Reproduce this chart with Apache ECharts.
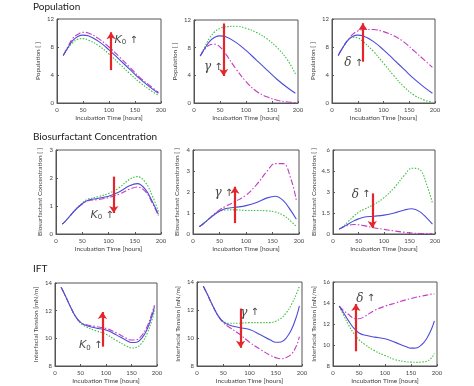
<!DOCTYPE html>
<html><head><meta charset="utf-8">
<script src="https://cdn.jsdelivr.net/npm/echarts@6/dist/echarts.min.js"></script>
<style>html,body{margin:0;padding:0;background:#fff}#c{width:474px;height:386px}</style>
</head><body><div id="c"></div>
<script>
// ---- data ----
const tPop = [12,20,30,40,50,60,80,100,120,140,160,180,195];
const popBase      = [6.8,7.8,8.9,9.5,9.7,9.6,8.8,7.6,6.2,4.8,3.4,2.2,1.4];
const popK0Low     = [6.8,7.7,8.6,9.1,9.2,9.0,8.2,7.0,5.6,4.2,2.9,1.8,1.1];
const popK0High    = [6.8,7.9,9.2,9.8,10.1,10.0,9.2,8.0,6.6,5.1,3.6,2.4,1.5];
const popGammaLow  = [6.8,8.0,9.4,10.3,10.8,11.0,11.1,10.8,10.2,9.3,8.0,6.2,4.2];
const popGammaHigh = [6.8,7.7,8.4,8.5,8.1,7.2,5.0,3.1,1.7,0.9,0.4,0.15,0.05];
const popDeltaLow  = [6.8,7.8,8.9,9.4,9.3,8.8,7.4,5.7,3.9,2.3,1.1,0.4,0.15];
const popDeltaHigh = [6.8,7.8,8.9,9.8,10.3,10.5,10.5,10.2,9.6,8.7,7.4,6.1,5.1];

const tBio = [12,20,30,40,50,60,80,100,120,140,155,170,185,195];
const bioBase      = [0.35,0.5,0.72,0.92,1.08,1.2,1.27,1.35,1.5,1.72,1.8,1.6,1.1,0.7];
const bioK0Low     = [0.35,0.5,0.72,0.93,1.1,1.24,1.33,1.45,1.65,1.95,2.05,1.85,1.3,0.8];
const bioK0High    = [0.35,0.5,0.72,0.92,1.07,1.18,1.23,1.3,1.42,1.6,1.68,1.52,1.05,0.65];
const bioGammaLow  = [0.35,0.5,0.72,0.92,1.08,1.14,1.15,1.12,1.12,1.1,1.05,0.9,0.6,0.35];
const bioGammaHigh = [0.35,0.5,0.72,0.95,1.15,1.3,1.55,1.85,2.35,3.0,3.35,3.35,2.6,1.6];
const bioDeltaLow  = [0.35,0.55,0.9,1.25,1.55,1.75,2.1,2.6,3.3,4.2,4.7,4.6,3.4,2.2];
const bioDeltaHigh = [0.35,0.5,0.62,0.68,0.66,0.6,0.45,0.33,0.22,0.12,0.07,0.04,0.03,0.02];

const tIft = [12,20,30,40,50,60,80,100,120,140,150,160,170,180,190,195];
const iftBase      = [13.7,13.1,12.3,11.6,11.15,10.95,10.75,10.6,10.25,9.85,9.7,9.72,10.0,10.6,11.6,12.3];
const iftK0Low     = [13.7,13.1,12.3,11.6,11.1,10.85,10.55,10.3,9.85,9.45,9.3,9.35,9.65,10.3,11.3,12.0];
const iftK0High    = [13.7,13.1,12.3,11.6,11.15,11.0,10.85,10.72,10.4,10.0,9.88,9.9,10.2,10.8,11.8,12.4];
const iftGammaLow  = [13.7,13.1,12.3,11.6,11.2,11.05,11.05,11.1,11.1,11.1,11.2,11.4,11.8,12.4,13.2,13.7];
const iftGammaHigh = [13.7,13.1,12.3,11.6,11.1,10.8,10.3,9.7,9.2,8.75,8.6,8.52,8.6,8.85,9.5,10.1];
const iftDeltaLow  = [13.7,12.9,11.9,11.1,10.5,10.1,9.45,9.0,8.6,8.4,8.37,8.35,8.38,8.45,8.8,9.2];
const iftDeltaHigh = [13.7,13.3,12.9,12.55,12.5,12.7,13.3,13.7,14.0,14.3,14.42,14.55,14.65,14.75,14.85,14.85];

const sectionTitles = ['Population','Biosurfactant Concentration','IFT'];
const yNames = ['Population [ ]','Biosurfactant Concentration [ ]','Interfacial Tension [mN/m]'];
const xName = 'Incubation Time [hours]';
const xTicks = [0,50,100,150,200];
// y axes: [min, max, interval]
const yAxesSpec = [[0,12,4],[0,12,4],[0,12,4],[0,3,1],[0,4,1],[0,6,1.5],[8,14,2],[8,14,2],[8,16,2]];
// arrows: [x, yFrom, yTo]   labels: [x, y, param]
const arrows = [[104,4.7,10.1],[57,11.5,3.9],[60,5.9,11.4],[110,2.05,0.75],[79,0.52,2.25],[77,2.9,0.43],[93,9.4,11.9],[83,12.1,9.3],[44,9.4,13.9]];
const arrowLabels = [[133,9.0,'K'],[37,5.2,'g'],[42,5.7,'d'],[88,0.68,'K'],[58,1.95,'g'],[55,2.8,'d'],[70,9.5,'K'],[100,11.8,'g'],[63,14.4,'d']];

const panels = [
  [tPop,popBase,popK0Low,popK0High],[tPop,popBase,popGammaLow,popGammaHigh],[tPop,popBase,popDeltaLow,popDeltaHigh],
  [tBio,bioBase,bioK0Low,bioK0High],[tBio,bioBase,bioGammaLow,bioGammaHigh],[tBio,bioBase,bioDeltaLow,bioDeltaHigh],
  [tIft,iftBase,iftK0Low,iftK0High],[tIft,iftBase,iftGammaLow,iftGammaHigh],[tIft,iftBase,iftDeltaLow,iftDeltaHigh]
];

// ---- layout ----
const gridBoxes = [
  [57,19,104,84],[194,20,104,83],[332,19,103,84],
  [56,150,105,84],[193,150,106,84],[333,150,102,84],
  [55,283,102,83],[197,282,105,84],[333,282,104,84]
];
const yNameGaps = [16,16,16,13,13,13,16,16,16];
const BLUE='#4d4ddb', GREEN='#3fbf3f', MAG='#c43cc4', RED='#e3262b';

const zip = (xs,ys)=>xs.map((x,i)=>[x,ys[i]]);
const grid=[], xAxis=[], yAxis=[], series=[];
gridBoxes.forEach((b,i)=>{
  grid.push({left:b[0],top:b[1],width:b[2],height:b[3],show:true,borderColor:'#555',borderWidth:1,backgroundColor:'#fff'});
  const axisCommon = {
    gridIndex:i, axisLine:{show:true,onZero:false,lineStyle:{color:'#555',width:1}},
    axisTick:{show:true,inside:true,length:2,lineStyle:{color:'#555'}},
    splitLine:{show:false},
    axisLabel:{fontSize:6,color:'#444',fontFamily:'Lato',margin:4},
    nameTextStyle:{fontSize:6.5,color:'#444',fontFamily:'Lato'}
  };
  xAxis.push(Object.assign({},axisCommon,{type:'value',min:xTicks[0],max:xTicks[xTicks.length-1],interval:50,
    name:xName,nameLocation:'middle',nameGap:11}));
  const ys=yAxesSpec[i];
  yAxis.push(Object.assign({},axisCommon,{type:'value',min:ys[0],max:ys[1],interval:ys[2],
    name:yNames[Math.floor(i/3)],nameLocation:'middle',nameGap:yNameGaps[i],
    axisLabel:Object.assign({},axisCommon.axisLabel,{margin:3})}));
  const p=panels[i];
  series.push({type:'line',xAxisIndex:i,yAxisIndex:i,data:zip(p[0],p[2]),smooth:0.4,symbol:'none',
    lineStyle:{color:GREEN,width:1.1,type:[1.5,1.5]},z:3});
  series.push({type:'line',xAxisIndex:i,yAxisIndex:i,data:zip(p[0],p[3]),smooth:0.4,symbol:'none',
    lineStyle:{color:MAG,width:1.1,type:[6,2,1.5,2]},z:3});
  series.push({type:'line',xAxisIndex:i,yAxisIndex:i,data:zip(p[0],p[1]),smooth:0.4,symbol:'none',
    lineStyle:{color:BLUE,width:1.1},z:4});
  const a=arrows[i];
  series.push({type:'line',xAxisIndex:i,yAxisIndex:i,data:[],z:6,
    markLine:{silent:true,symbol:['none','arrow'],symbolSize:7,label:{show:false},
      lineStyle:{color:RED,width:2.2,type:'solid',opacity:1},
      data:[[{coord:[a[0],a[1]]},{coord:[a[0],a[2]]}]]}});
  const l=arrowLabels[i];
  const fmt = l[2]==='K' ? '{k|K}{s|0} ↑' : (l[2]==='g' ? '{g|γ} ↑' : '{g|δ} ↑');
  series.push({type:'scatter',xAxisIndex:i,yAxisIndex:i,data:[[l[0],l[1]]],symbolSize:1,
    itemStyle:{color:'rgba(0,0,0,0)'},z:7,silent:true,
    label:{show:true,position:'inside',formatter:fmt,color:'#111',fontSize:10,fontFamily:'DejaVu Sans',
      rich:{k:{fontStyle:'italic',fontSize:11,fontFamily:'DejaVu Sans',color:'#111'},
            s:{fontSize:7,fontFamily:'DejaVu Sans',color:'#111',padding:[5,0,0,0]},
            g:{fontStyle:'italic',fontSize:12,fontFamily:'DejaVu Serif',color:'#111'}}}});
});

const titleTops=[1.5,132,264];
const graphic = sectionTitles.map((t,i)=>({type:'text',left:33,top:titleTops[i],silent:true,
  style:{text:t,fontSize:10,fontFamily:'Lato',fill:'#222'}}));

const chart = echarts.init(document.getElementById('c'),null,{renderer:'canvas'});
chart.setOption({animation:false,backgroundColor:'#fff',graphic,grid,xAxis,yAxis,series});
</script></body></html>
